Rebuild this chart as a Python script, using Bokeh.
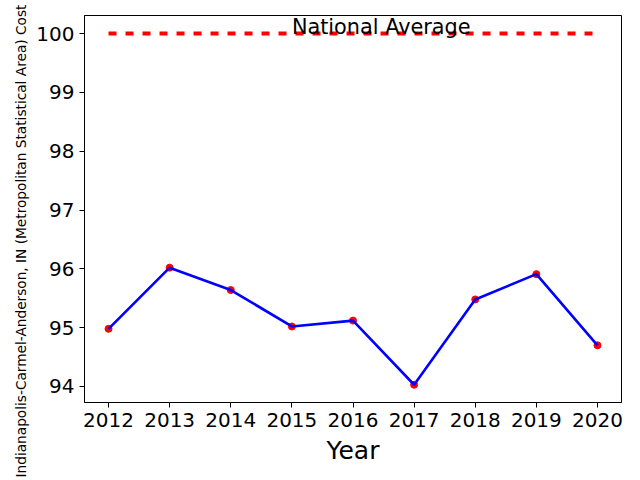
from bokeh.plotting import figure
from bokeh.models import Range1d, FixedTicker, ColumnDataSource, Title
from bokeh.core.properties import value
from bokeh.embed import file_html
from bokeh.resources import INLINE

years = [2012, 2013, 2014, 2015, 2016, 2017, 2018, 2019, 2020]
cost_index = [94.98, 96.02, 95.64, 95.02, 95.12, 94.03, 95.48, 95.91, 94.70]
national_avg = [100] * len(years)
y_ticks = [94, 95, 96, 97, 98, 99, 100]
y_label = "Indianapolis-Carmel-Anderson, IN (Metropolitan Statistical Area) Cost"
x_label = "Year"
note = "National Average"

FONT = "DejaVu Sans"

p = figure(width=632, height=480, output_backend="svg", toolbar_location=None,
           x_range=Range1d(2011.607, 2020.393), y_range=Range1d(93.728, 100.306),
           min_border_left=84, min_border_right=11, min_border_top=15, min_border_bottom=78)

p.background_fill_color = "white"
p.border_fill_color = "white"
p.outline_line_color = "black"
p.outline_line_width = 1
p.xgrid.visible = False
p.ygrid.visible = False

src = ColumnDataSource(dict(x=years, y=cost_index, n=national_avg))

p.line("x", "n", source=src, line_color="red", line_width=4, line_dash="8 9")
p.scatter("x", "y", source=src, size=7, fill_color="red", line_color="red")
p.line("x", "y", source=src, line_color="blue", line_width=2.6)

p.text(x=[2015], y=[100], text=[note], text_align="left", text_baseline="bottom",
       y_offset=5, text_font=value(FONT), text_font_size="20.8px", text_color="black")

for ax in (p.xaxis[0], p.yaxis[0]):
    ax.major_label_text_font = FONT
    ax.major_label_text_font_size = "20px"
    ax.major_label_text_color = "black"
    ax.axis_label_text_font = FONT
    ax.axis_label_text_font_style = "normal"
    ax.axis_label_text_color = "black"
    ax.major_tick_out = 5
    ax.major_tick_in = 0
    ax.minor_tick_out = 0
    ax.minor_tick_in = 0
    ax.axis_line_color = "black"
    ax.major_label_standoff = 5

p.xaxis.ticker = FixedTicker(ticks=years)
p.yaxis.ticker = FixedTicker(ticks=y_ticks)
p.xaxis.axis_label = x_label
p.xaxis.axis_label_text_font_size = "25px"
p.xaxis.axis_label_standoff = 6

ytitle = Title(text=y_label, align="left", offset=-75, standoff=9,
               text_font=FONT, text_font_size="13.7px", text_font_style="normal",
               text_color="black")
p.add_layout(ytitle, "left")

open("out.html", "w").write(file_html(p, INLINE))
